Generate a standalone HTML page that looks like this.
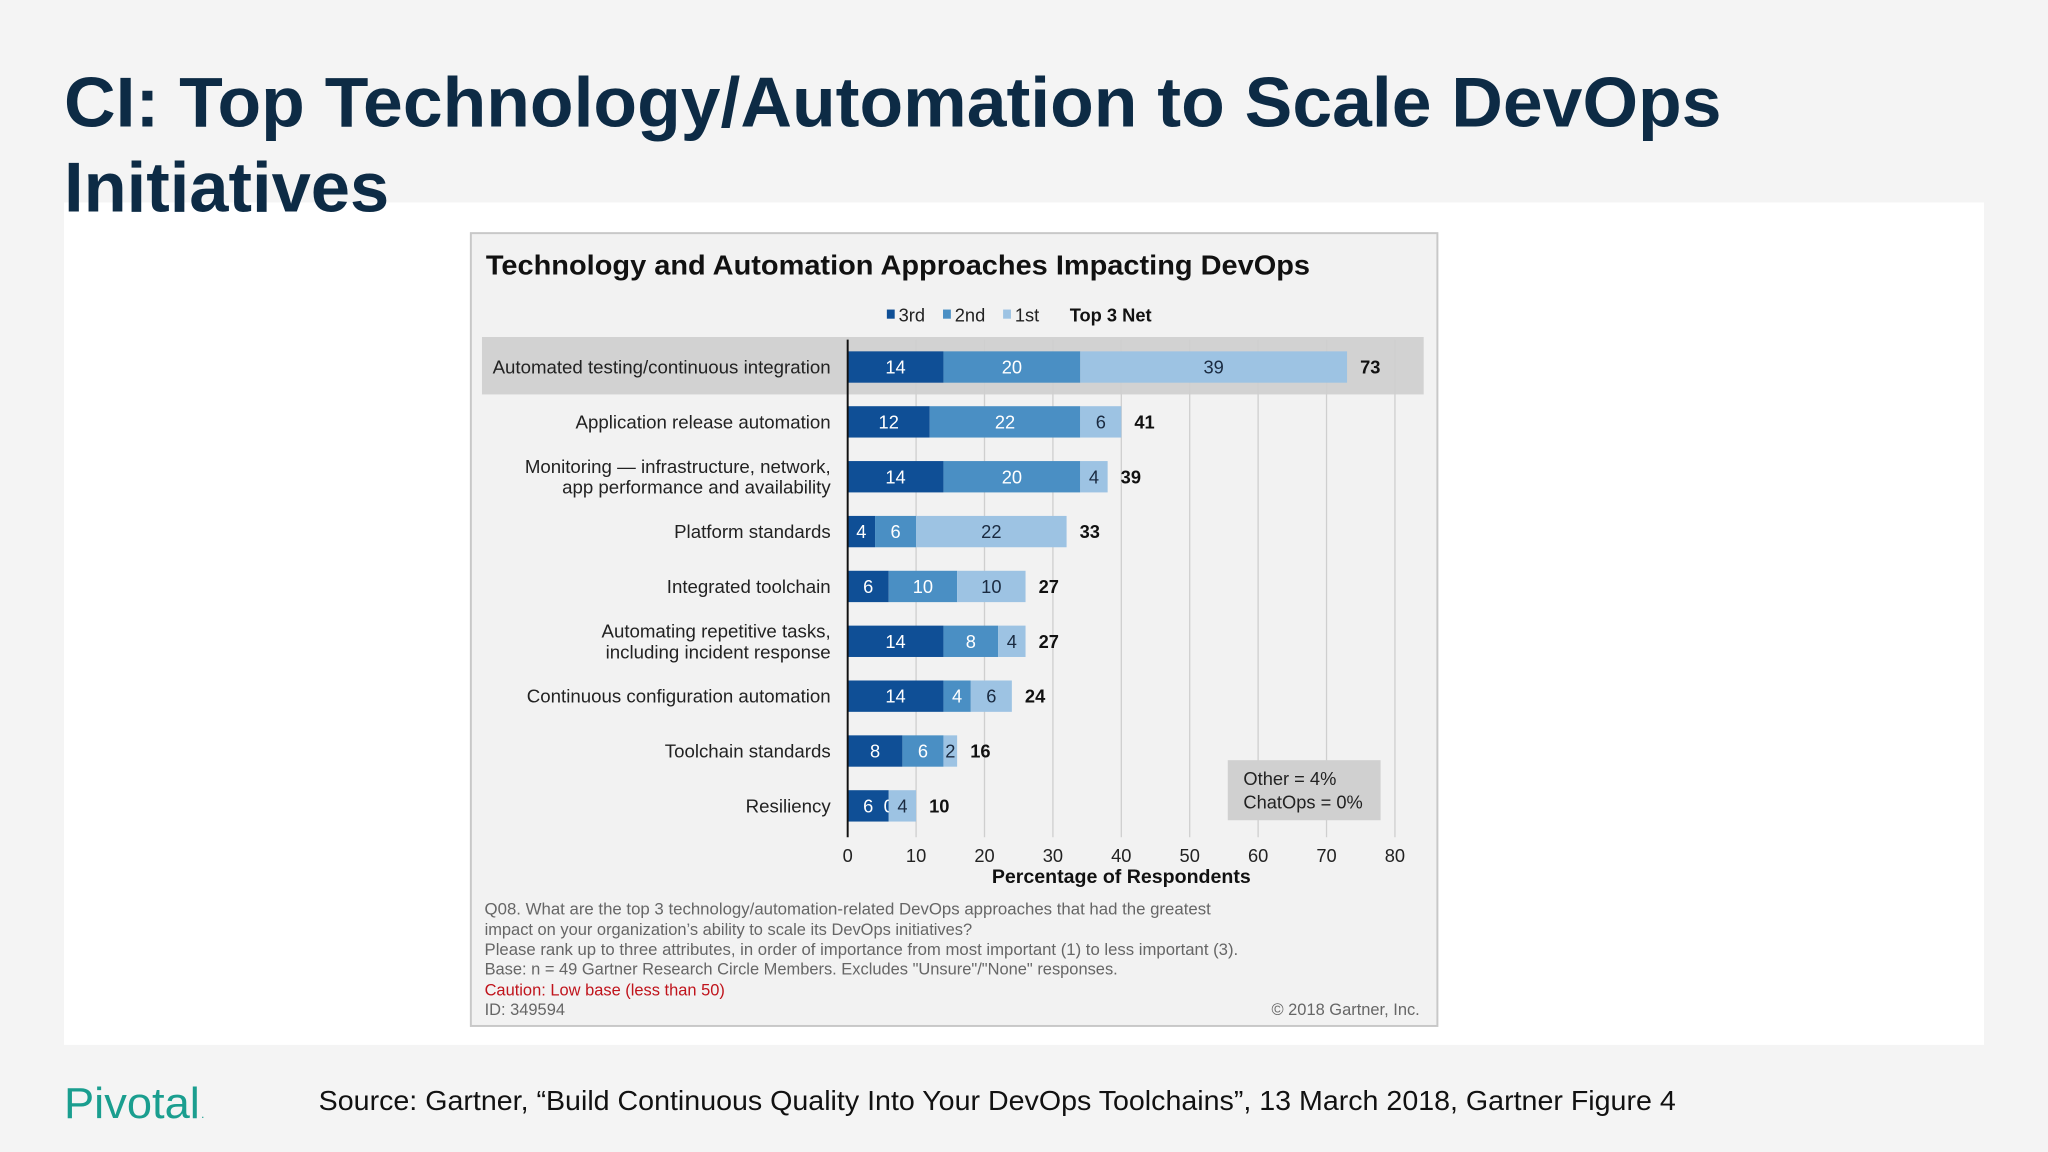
<!DOCTYPE html>
<html><head><meta charset="utf-8"><style>
html,body{margin:0;padding:0;width:2048px;height:1152px;overflow:hidden;background:#f4f4f4}
svg{display:block}
text{font-family:"Liberation Sans",Arial,sans-serif}
</style></head><body>
<svg id="s" width="2048" height="1152" viewBox="0 0 1568 882" xmlns="http://www.w3.org/2000/svg">
<rect x="0" y="0" width="1568" height="882" fill="#f4f4f4"/>
<rect x="49" y="155" width="1470" height="645" fill="#ffffff"/>
<text x="49" y="97" font-size="54" font-weight="bold" fill="#0d2b45" textLength="1269" lengthAdjust="spacingAndGlyphs">CI: Top Technology/Automation to Scale DevOps</text>
<text x="49" y="162" font-size="54" font-weight="bold" fill="#0d2b45" textLength="249" lengthAdjust="spacingAndGlyphs">Initiatives</text>
<rect x="360.5" y="178.5" width="740" height="607" fill="#f2f2f2" stroke="#c8c8c8" stroke-width="1.5"/>
<text x="372" y="210" font-size="21.5" font-weight="bold" fill="#111" textLength="631" lengthAdjust="spacingAndGlyphs">Technology and Automation Approaches Impacting DevOps</text>
<g id="legend">
<rect x="679" y="237" width="6" height="7" fill="#0f4f96"/>
<text x="688" y="246" font-size="14" fill="#222">3rd</text>
<rect x="722" y="237" width="6" height="7" fill="#4a8fc4"/>
<text x="731" y="246" font-size="14" fill="#222">2nd</text>
<rect x="768" y="237" width="6" height="7" fill="#9dc3e3"/>
<text x="777" y="246" font-size="14" fill="#222">1st</text>
<text x="819" y="246" font-size="14" font-weight="bold" fill="#111">Top 3 Net</text>
</g>
<rect x="369" y="258" width="721" height="44" fill="#d2d2d2"/>
<g id="grid"></g>
<g id="bars"></g>
<g id="axis"></g>
<rect x="940" y="582" width="117" height="46" fill="#d0d0d0"/>
<text x="952" y="601" font-size="14" fill="#222">Other = 4%</text>
<text x="952" y="619" font-size="14" fill="#222">ChatOps = 0%</text>
<g font-size="12.6" fill="#666">
<text x="371" y="700" textLength="556" lengthAdjust="spacingAndGlyphs">Q08. What are the top 3 technology/automation-related DevOps approaches that had the greatest</text>
<text x="371" y="716">impact on your organization’s ability to scale its DevOps initiatives?</text>
<text x="371" y="731" textLength="577" lengthAdjust="spacingAndGlyphs">Please rank up to three attributes, in order of importance from most important (1) to less important (3).</text>
<text x="371" y="746">Base: n = 49 Gartner Research Circle Members. Excludes "Unsure"/"None" responses.</text>
<text x="371" y="762" fill="#c0141c">Caution: Low base (less than 50)</text>
<text x="371" y="777">ID: 349594</text>
<text x="1087" y="777" text-anchor="end">© 2018 Gartner, Inc.</text>
</g>
<text x="49" y="856" font-size="33" fill="#1a9e8f" textLength="104" lengthAdjust="spacingAndGlyphs">Pivotal</text>
<text x="154" y="856" font-size="9" fill="#1a9e8f">.</text>
<text x="244" y="850" font-size="21" fill="#111" textLength="1039" lengthAdjust="spacingAndGlyphs">Source: Gartner, “Build Continuous Quality Into Your DevOps Toolchains”, 13 March 2018, Gartner Figure 4</text>
</svg>
<script>
const categories = [["Automated testing/continuous integration"],["Application release automation"],["Monitoring — infrastructure, network,","app performance and availability"],["Platform standards"],["Integrated toolchain"],["Automating repetitive tasks,","including incident response"],["Continuous configuration automation"],["Toolchain standards"],["Resiliency"]];
const third = [14,12,14,4,6,14,14,8,6];
const second = [20,22,20,6,10,8,4,6,0];
const first = [39,6,4,22,10,4,6,2,4];
const net = [73,41,39,33,27,27,24,16,10];
const ticks = [0,10,20,30,40,50,60,70,80];
const NS="http://www.w3.org/2000/svg";
const x0=649, x1=1068, xmax=80, yTop=281, step=42, bh=24;
const xs=v=>x0+(x1-x0)*v/xmax;
const ys=i=>yTop+i*step;
function mk(tag,attrs,parent,txt){const e=document.createElementNS(NS,tag);for(const k in attrs)e.setAttribute(k,attrs[k]);if(txt!==undefined)e.textContent=txt;parent.appendChild(e);return e;}
const grid=document.getElementById('grid'),bars=document.getElementById('bars'),axis=document.getElementById('axis');
ticks.forEach(t=>{
  if(t>0){const l=mk('line',{x1:xs(t),x2:xs(t),y1:260,y2:641,stroke:'#cfcfcf','stroke-width':1},grid);
  
  }
  const tx=mk('text',{x:xs(t),y:660,'text-anchor':'middle','font-size':14,fill:'#222'},axis,String(t));
  
  
});
const al=mk('line',{x1:x0,x2:x0,y1:260,y2:641,stroke:'#111','stroke-width':1.5},axis);


const xt=mk('text',{x:(xs(20)+xs(60))/2,y:676,'text-anchor':'middle','font-size':15,'font-weight':'bold',fill:'#111'},axis,'Percentage of Respondents');


const cols=['#0f4f96','#4a8fc4','#9dc3e3'], txtc=['#fff','#fff','#1a2a40'], names=['3rd','2nd','1st'];
categories.forEach((c,i)=>{
  const cy=ys(i);
  const lab=mk('text',{x:636,'text-anchor':'end','font-size':14.3,fill:'#222'},bars);
  
  
  c.forEach((line,j)=>{mk('tspan',{x:636,y:cy+5+(j-(c.length-1)/2)*16},lab,line);});
  let acc=0;
  [third[i],second[i],first[i]].forEach((v,k)=>{
    const r=mk('rect',{x:xs(acc),y:cy-bh/2,width:xs(acc+v)-xs(acc),height:bh,fill:cols[k]},bars);
    
    
    const t=mk('text',{x:(xs(acc)+xs(acc+v))/2,y:cy+5,'text-anchor':'middle','font-size':14,fill:txtc[k]},bars,String(v));
    
    
    acc+=v;
  });
  const n=mk('text',{x:xs(acc)+10,y:cy+5,'font-size':14,'font-weight':'bold',fill:'#111'},bars,String(net[i]));
  
  
});
</script>
</body></html>
